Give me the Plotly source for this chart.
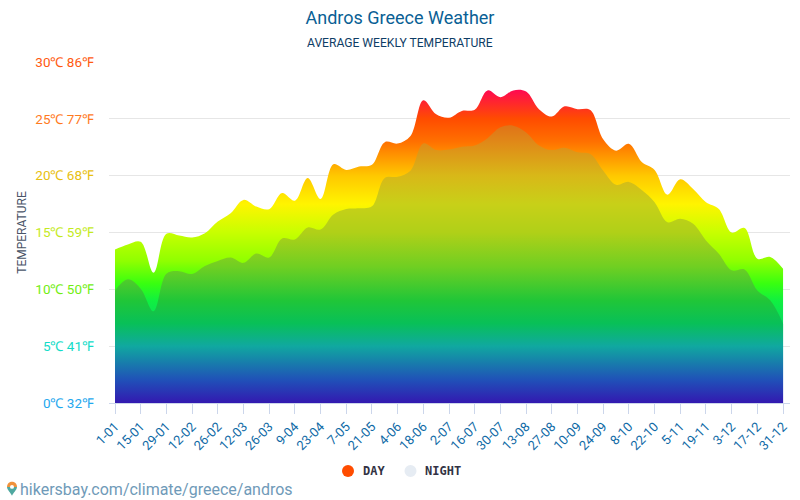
import plotly.graph_objects as go

weeks = ["1-01","8-01","15-01","22-01","29-01","5-02","12-02","19-02","26-02","5-03","12-03","19-03","26-03",
         "2-04","9-04","16-04","23-04","30-04","7-05","14-05","21-05","28-05","4-06","11-06","18-06","25-06",
         "2-07","9-07","16-07","23-07","30-07","6-08","13-08","20-08","27-08","3-09","10-09","17-09","24-09",
         "1-10","8-10","15-10","22-10","29-10","5-11","12-11","19-11","26-11","3-12","10-12","17-12","24-12","31-12"]
day = [13.5,13.95,14.18,11.46,14.9,14.74,14.56,14.94,15.96,16.7,17.87,17.28,17.05,18.48,17.8,19.8,17.95,21.0,20.5,20.8,
       20.96,22.95,22.83,23.5,26.64,25.4,25.1,25.7,25.8,27.5,26.9,27.5,27.4,25.85,25.2,26.1,25.85,25.77,23.2,22.2,22.8,
       21.2,20.5,18.33,19.68,18.83,17.66,17.07,15.0,15.4,12.7,12.85,11.8]
night = [9.9,10.88,10.06,8.07,11.37,11.6,11.35,12.05,12.5,12.8,12.33,13.15,12.8,14.47,14.39,15.44,15.26,16.58,17.07,17.13,
         17.3,19.8,19.9,20.44,22.83,22.25,22.3,22.55,22.66,23.3,24.25,24.4,23.8,22.66,22.25,22.45,22.05,21.9,20.44,19.2,
         19.45,18.74,17.66,15.9,16.2,15.76,14.3,13.13,11.67,11.75,9.9,9.04,7.0]
y_ticks = [0,5,10,15,20,25,30]
y_labels = ["0℃ 32℉","5℃ 41℉","10℃ 50℉","15℃ 59℉","20℃ 68℉","25℃ 77℉","30℃ 86℉"]
y_colors = ["#1fa8ee","#12dcc8","#72ee12","#c4ea1e","#e8c010","#ff7a1e","#ff5a10"]
legend_names = ["DAY","NIGHT"]
legend_colors = ["#ff4c00","#e6ecf3"]

L, R, T, B = 109, 10, 61.5, 97
W, H = 800, 500
def px(x): return (x - L) / (W - L - R)
def py(y): return (H - B - y) / (H - T - B)

GMAX = 30
day_scale = [[0,"#3319b0"],[2/GMAX,"#2050b8"],[5/GMAX,"#10b0a0"],[7/GMAX,"#08dc60"],[9/GMAX,"#10f040"],[10.5/GMAX,"#38ff10"],
             [12.5/GMAX,"#90ff00"],[15/GMAX,"#c8ff00"],[17.5/GMAX,"#fff400"],[20/GMAX,"#ffc800"],[23/GMAX,"#ff7000"],
             [25/GMAX,"#ff4c00"],[27.5/GMAX,"#ff0a50"],[1,"#ff0070"]]
night_scale = [[0,"#3319b0"],[2/GMAX,"#2050b8"],[5/GMAX,"#10a8a0"],[7/GMAX,"#08c058"],[9/GMAX,"#20c638"],[12/GMAX,"#70cf22"],
               [15/GMAX,"#b0d018"],[17.5/GMAX,"#c8d018"],[20/GMAX,"#d8b818"],[23/GMAX,"#e08818"],[25/GMAX,"#e06a18"],[1,"#e06a18"]]

fig = go.Figure()
fig.add_trace(go.Scatter(x=weeks, y=day, name="DAY", mode="lines", line=dict(width=0, shape="spline", smoothing=1.0), fill="tozeroy",
                         fillgradient=dict(type="vertical", colorscale=day_scale, start=0, stop=GMAX), showlegend=False, hoverinfo="skip"))
fig.add_trace(go.Scatter(x=weeks, y=night, name="NIGHT", mode="lines", line=dict(width=0, shape="spline", smoothing=1.0), fill="tozeroy",
                         fillgradient=dict(type="vertical", colorscale=night_scale, start=0, stop=GMAX), showlegend=False, hoverinfo="skip"))

legend_font = dict(family="DejaVu Sans Mono", size=12, color="#333344")
legend_anns = [dict(text=f"<b>{n}</b>", xref="paper", yref="paper", x=px(tx), y=py(471), showarrow=False,
                    xanchor="left", yanchor="middle", xshift=-2, font=legend_font)
               for n, tx in zip(legend_names, [363, 425])]
legend_dots = [dict(type="circle", xref="paper", yref="paper", layer="above", line=dict(width=0), fillcolor=c,
                    x0=px(cx - 6), x1=px(cx + 6), y0=py(477), y1=py(465))
               for c, cx in zip(legend_colors, [348, 410.5])]

fig.update_layout(
    width=W, height=H, autosize=False, margin=dict(l=L, r=R, t=T, b=B, pad=0),
    paper_bgcolor="white", plot_bgcolor="white", font=dict(family="Roboto"),
    title=dict(text="Andros Greece Weather", x=0.5, xanchor="center", y=0.964, yanchor="middle",
               font=dict(family="Roboto", size=18, color="#0a5f95")),
    xaxis=dict(type="category", categoryorder="array", categoryarray=weeks, range=[-0.467, 52.54],
               tickmode="array", tickvals=weeks[::2], ticktext=weeks[::2], tickangle=-45,
               tickfont=dict(family="Roboto", size=13, color="#0f6aa6"),
               ticks="outside", ticklen=10, tickcolor="#ccd6eb", showline=True, linecolor="#ccd6eb", linewidth=1,
               showgrid=False, zeroline=False),
    yaxis=dict(range=[0, 30], tickmode="array", tickvals=y_ticks,
               ticktext=[f'<span style="color:{c}">{t}</span>' for t, c in zip(y_labels, y_colors)],
               tickfont=dict(family="Roboto", size=13.5), ticks="", ticklabelstandoff=14,
               gridcolor="#e6e6e6", gridwidth=1, zeroline=False, showline=False,
               title=dict(text="TEMPERATURE", font=dict(family="Roboto", size=12, color="#4a5568"), standoff=6)),
    showlegend=False,
    annotations=[
        dict(text="AVERAGE WEEKLY TEMPERATURE", xref="paper", yref="paper", x=px(400), y=py(42), showarrow=False,
             xanchor="center", yanchor="middle", font=dict(family="Roboto", size=12.1, color="#0e3d66")),
        dict(text="hikersbay.com/climate/greece/andros", xref="paper", yref="paper", x=px(18), y=py(489.5), showarrow=False,
             xanchor="left", yanchor="middle", font=dict(family="Roboto", size=16, color="#6f9ab8")),
    ] + legend_anns,
    shapes=[
        dict(type="path", xref="paper", yref="paper", layer="above", line=dict(width=0), fillcolor="#f0923c",
             path=f"M {px(7)} {py(487)} C {px(7)} {py(480)} {px(17)} {py(480)} {px(17)} {py(487)} L {px(12)} {py(487)} Z"),
        dict(type="path", xref="paper", yref="paper", layer="above", line=dict(width=0), fillcolor="#4fa8a0",
             path=f"M {px(7)} {py(487)} L {px(17)} {py(487)} C {px(17)} {py(490)} {px(13)} {py(493)} {px(12)} {py(496)} C {px(11)} {py(493)} {px(7)} {py(490)} {px(7)} {py(487)} Z"),
        dict(type="circle", xref="paper", yref="paper", layer="above", line=dict(width=0), fillcolor="white",
             x0=px(10), x1=px(14), y0=py(489), y1=py(485)),
    ] + legend_dots,
)
fig.write_html("out.html", config=dict(displayModeBar=False),
               post_script="document.body.style.margin='0';document.documentElement.style.overflow='hidden';")
